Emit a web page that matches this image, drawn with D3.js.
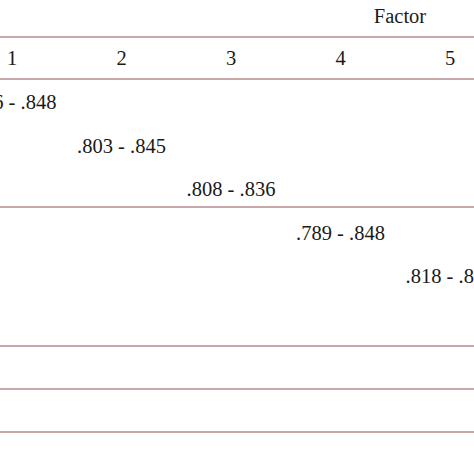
<!DOCTYPE html>
<html><head><meta charset="utf-8">
<script src="https://cdn.jsdelivr.net/npm/d3@7"></script>
<style>body{margin:0;background:#fff}</style></head>
<body><svg id="c" width="474" height="474"></svg>
<script>
const factors = ["1","2","3","4","5"];
const ranges = [".796 - .848", ".803 - .845", ".808 - .836", ".789 - .848", ".818 - .857"];
const rowIndex = [0,1,2,3,4];
const ruleRows = [37, 79, 207, 346, 389, 432];

const svg = d3.select("#c");
const x = d3.scalePoint().domain(factors).range([12, 450]);
const y = d3.scaleLinear().domain([0,4]).range([102, 276]);
const font = "'Liberation Serif', 'DejaVu Serif', serif";
const fs = 20.5;

svg.selectAll("line.r").data(ruleRows).join("line")
  .attr("x1",0).attr("x2",474).attr("y1",d=>d).attr("y2",d=>d)
  .attr("stroke","#b58a8a").attr("stroke-width",1.3);

svg.append("text").attr("x",400).attr("y",23).attr("text-anchor","middle")
  .attr("font-family",font).attr("font-size",fs).attr("fill","#1a1a1a").text("Factor");

svg.selectAll("text.h").data(factors).join("text")
  .attr("x",d=>x(d)).attr("y",65).attr("text-anchor","middle")
  .attr("font-family",font).attr("font-size",fs).attr("fill","#1a1a1a").text(d=>d);

svg.selectAll("text.v").data(rowIndex).join("text")
  .attr("x",i=>x(factors[i])).attr("y",i=>y(i)+7).attr("text-anchor","middle")
  .attr("font-family",font).attr("font-size",fs).attr("fill","#1a1a1a").text(i=>ranges[i]);
</script></body></html>
